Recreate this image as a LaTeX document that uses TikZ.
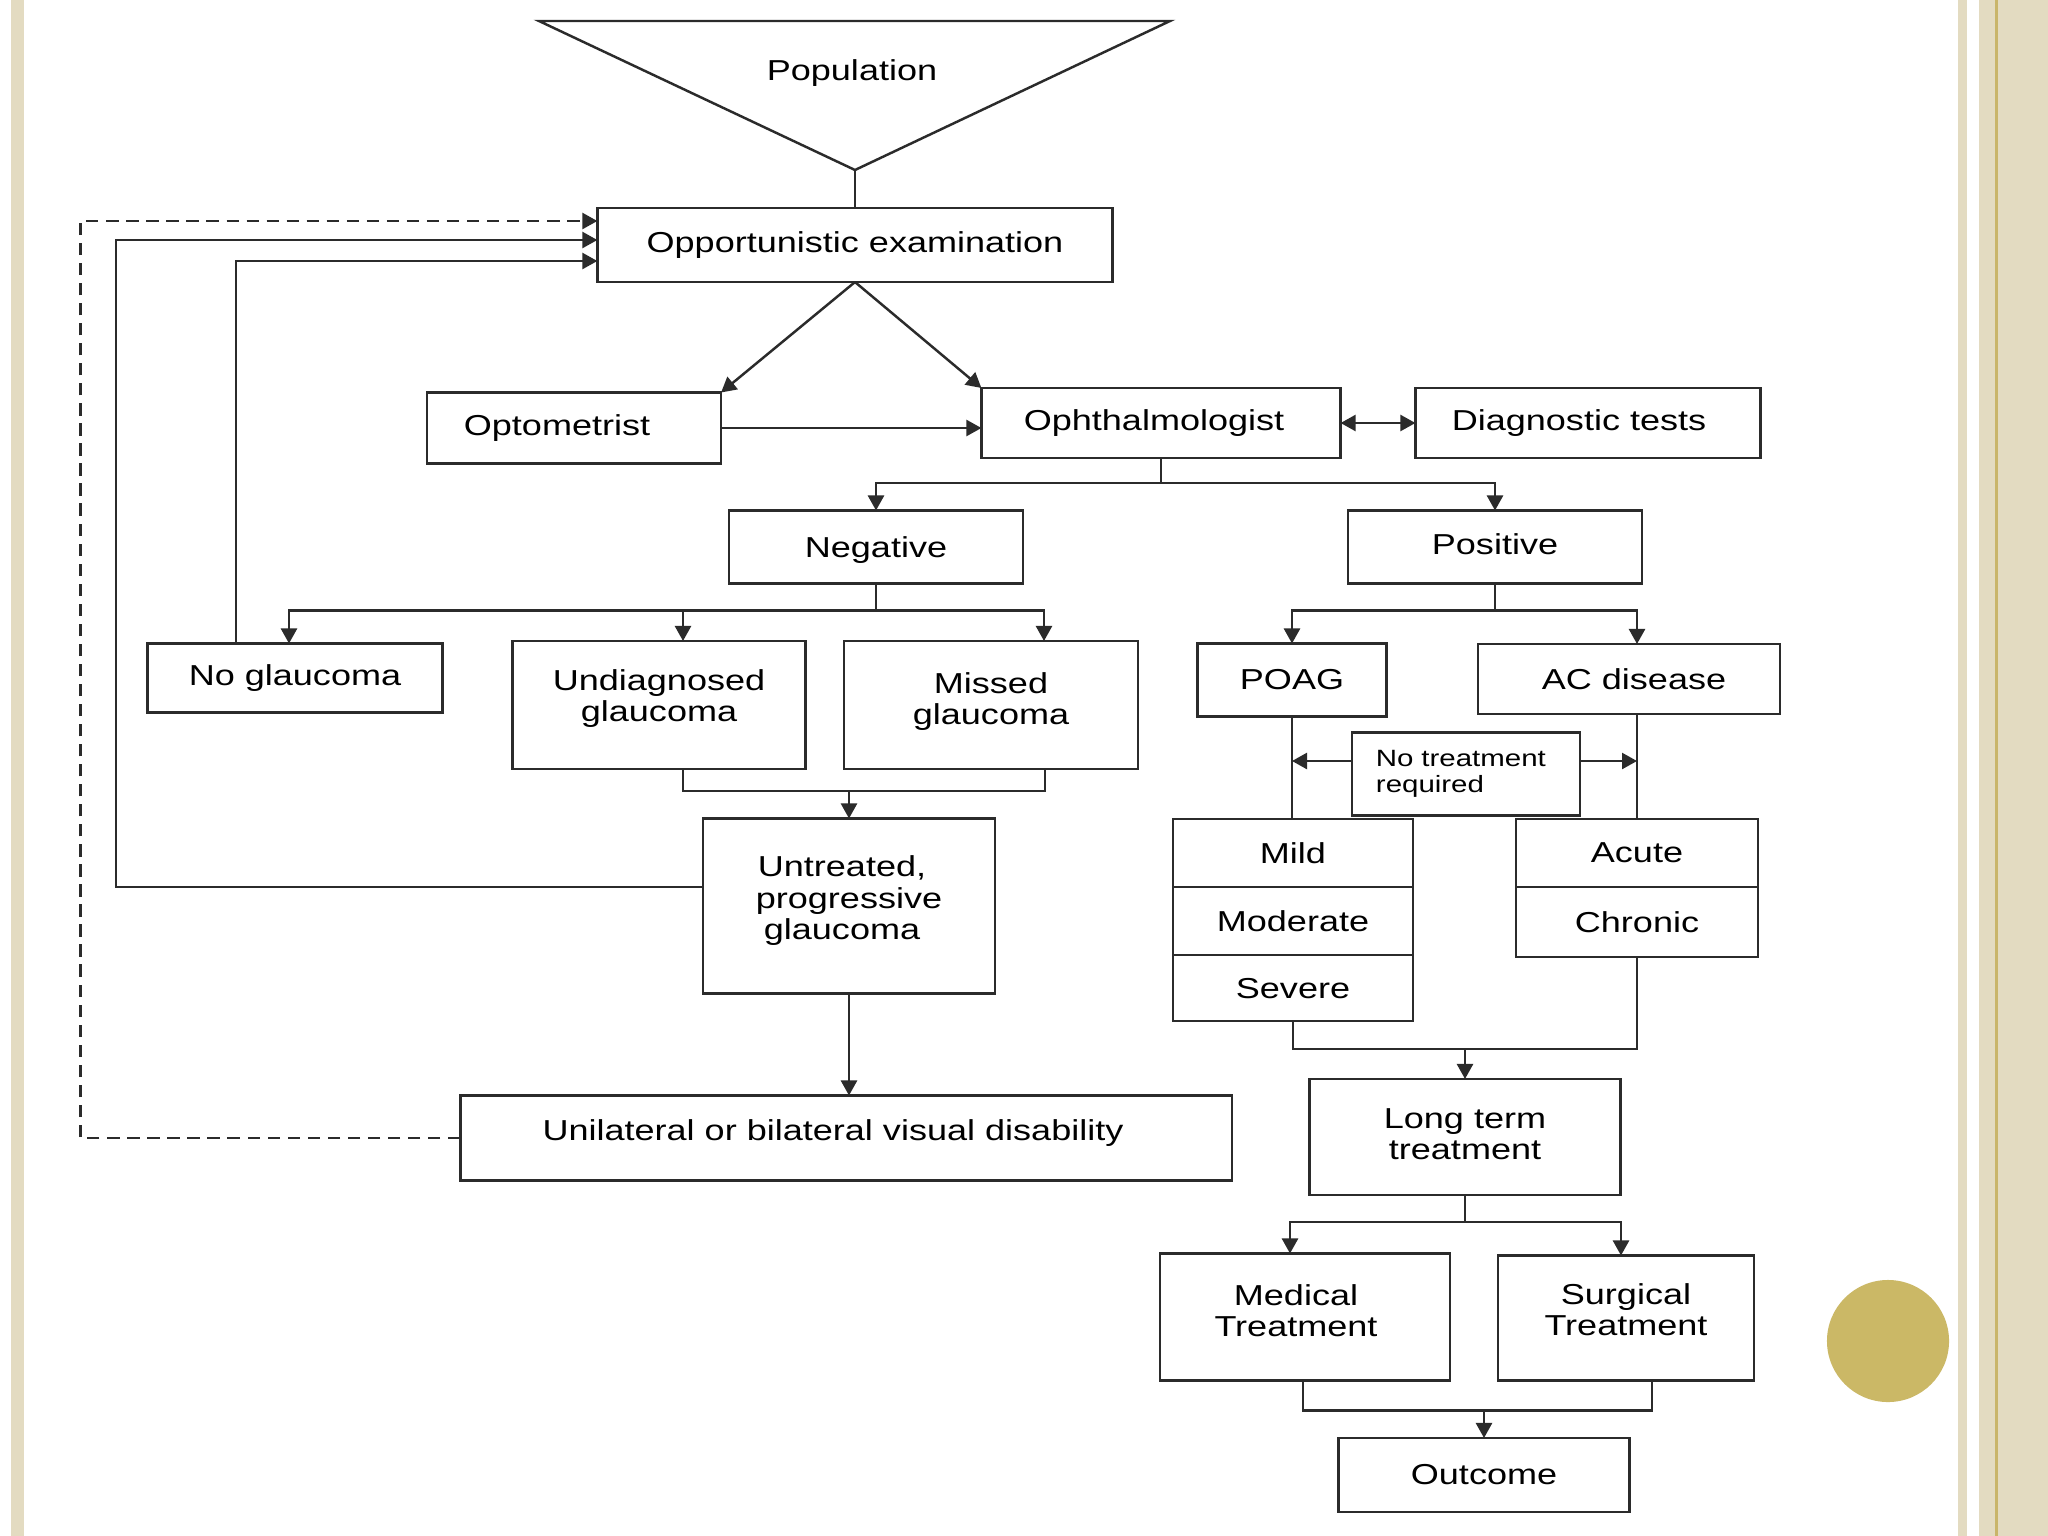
\documentclass[tikz,border=0pt]{standalone}
\usepackage{fontspec}
\setmainfont{Liberation Sans}[FakeStretch=1.25]
\usepackage{tikz}
\usetikzlibrary{arrows.meta,positioning,calc}
\definecolor{slidestrip}{HTML}{E3DBC1}
\definecolor{slidegold}{HTML}{C9B56A}
\definecolor{slidedot}{HTML}{CBB866}
\definecolor{boxline}{HTML}{2B2B2B}

\begin{document}
\begin{tikzpicture}[
  x=0.01cm, y=-0.01cm,
  box/.style={
    rectangle,
    draw=boxline,
    line width=0.7pt,
    fill=white,
    align=center,
    inner sep=1pt,
    outer sep=0pt,
    font=\fontsize{8.2}{8.9}\selectfont
  },
  link/.style={draw=boxline, line width=0.7pt},
  arrow/.style={link, -{Triangle[length=1.5mm,width=1.6mm]}},
  twoway/.style={link, {Triangle[length=1.5mm,width=1.6mm]}-{Triangle[length=1.5mm,width=1.6mm]}},
  backarrow/.style={arrow, dash pattern=on 3.5pt off 2.2pt}
]

% slide frame
\fill[white] (0,0) rectangle (2048,1536);
\useasboundingbox (0,0) rectangle (2048,1536);
\fill[slidestrip] (11,0) rectangle (24,1536);
\fill[slidestrip] (1958,0) rectangle (1967,1536);
\fill[slidestrip] (1979,0) rectangle (2048,1536);
\fill[slidegold] (1995,0) rectangle (1998,1536);
\fill[slidedot] (1888,1341) circle (0.61cm);

% population funnel
\coordinate (ptl) at (539,21);
\coordinate (ptr) at (1170,21);
\coordinate (ptip) at (855,170);
\draw[link] (ptl) -- (ptr) -- (ptip) -- cycle;
\node[font=\fontsize{8.2}{8.9}\selectfont] (popu) at (852,73) {Population};

% left branch
\node[box, minimum width=5.15cm, minimum height=0.74cm] (opp) at (855,245) {Opportunistic examination};
\node[box, minimum width=2.94cm, minimum height=0.71cm] (optom) at (574,428) {Optometrist\hspace*{0.34cm}};
\node[box, minimum width=3.59cm, minimum height=0.70cm] (ophth) at (1161,423) {Ophthalmologist\hspace*{0.14cm}};
\node[box, minimum width=3.45cm, minimum height=0.70cm] (diag) at (1588,423) {Diagnostic tests\hspace*{0.18cm}};
\node[box, minimum width=2.94cm, minimum height=0.73cm, text depth=0pt] (neg) at (876,547) {Negative};
\node[box, minimum width=2.94cm, minimum height=0.73cm, text depth=1.5pt] (pos) at (1495,547) {Positive};
\node[box, minimum width=2.95cm, minimum height=0.69cm] (noglau) at (295,678) {No glaucoma};
\node[box, minimum width=2.93cm, minimum height=1.28cm, text depth=5.4pt] (undiag) at (659,705) {Undiagnosed\\glaucoma};
\node[box, minimum width=2.94cm, minimum height=1.28cm, text depth=3.6pt] (missed) at (991,705) {Missed\\glaucoma};
\node[box, minimum width=2.92cm, minimum height=1.75cm, text depth=4.7pt] (untr) at (849,906)
  {Untreated,\hspace*{0.14cm}\\progressive\hspace*{0.14cm}\\glaucoma\hspace*{0.14cm}};
\node[box, minimum width=7.71cm, minimum height=0.85cm, text depth=4.7pt] (unil) at (846,1138)
  {Unilateral or bilateral visual disability\hspace*{0.26cm}};

% right branch
\node[box, minimum width=1.89cm, minimum height=0.73cm] (poag) at (1292,680) {POAG};
\node[box, minimum width=3.02cm, minimum height=0.70cm] (acd) at (1629,679) {\hspace*{0.1cm}AC disease};
\node[box, align=left, text width=1.8cm, inner xsep=0.24cm, minimum height=0.83cm,
  font=\fontsize{6.7}{7.4}\selectfont] (notr) at (1466,774) {No treatment\\required};
\node[box, minimum width=2.40cm, minimum height=0.68cm] (mild) at (1293,853) {Mild};
\node[box, minimum width=2.40cm, minimum height=0.68cm, below=0pt of mild] (moder) {Moderate};
\node[box, minimum width=2.40cm, minimum height=0.66cm, below=0pt of moder] (sev) {Severe};
\node[box, minimum width=2.42cm, minimum height=0.68cm] (acute) at (1637,853) {Acute};
\node[box, minimum width=2.42cm, minimum height=0.70cm, below=0pt of acute] (chron) {Chronic};
\node[box, minimum width=3.11cm, minimum height=1.16cm, text depth=1.5pt] (longt) at (1465,1137) {Long term\\treatment};
\node[box, minimum width=2.90cm, minimum height=1.27cm, text depth=3.7pt] (med) at (1305,1317)
  {Medical\hspace*{0.18cm}\\Treatment\hspace*{0.18cm}};
\node[box, minimum width=2.56cm, minimum height=1.25cm, text depth=4.8pt] (surg) at (1626,1318) {Surgical\\Treatment};
\node[box, minimum width=2.91cm, minimum height=0.74cm] (outc) at (1484,1475) {Outcome};

% top connectors
\draw[link] (ptip) -- (opp.north);
\draw[arrow] (opp.south) -- (optom.north east);
\draw[arrow] (opp.south) -- (ophth.north west);
\draw[arrow] (optom.east) -- (optom.east -| ophth.west);
\draw[twoway] (ophth.east) -- (ophth.east -| diag.west);
\draw[link] (ophth.south) -- ++(0,25) coordinate (obus);
\draw[arrow] (obus) -| (neg.north);
\draw[arrow] (obus) -| (pos.north);

% negative side
\draw[link] (neg.south) -- ++(0,27) coordinate (nbus);
\draw[arrow] (nbus) -| ($(noglau.north)+(-6,0)$);
\draw[arrow] (nbus) -| ($(undiag.north)+(24,0)$);
\draw[arrow] (nbus) -| ($(missed.north)+(53,0)$);
\draw[link] ($(undiag.south)+(24,0)$) -- ++(0,22) coordinate (ubus) -| ($(missed.south)+(54,0)$);
\draw[arrow] (untr.north |- ubus) -- (untr.north);
\draw[arrow] (untr.south) -- (untr.south |- unil.north);

% feedback loops
\draw[backarrow] (unil.west) -- ++(-380,0) |- ($(opp.west)+(0,-24)$);
\draw[arrow] ($(untr.west)+(0,-19)$) -- ++(-587,0) |- ($(opp.west)+(0,-5)$);
\draw[arrow] ($(noglau.north)+(-59,0)$) |- ($(opp.west)+(0,16)$);

% positive side
\draw[link] (pos.south) -- ++(0,27) coordinate (pbus);
\draw[arrow] (pbus) -| (poag.north);
\draw[arrow] (pbus) -| (acute.north |- acd.north);
\draw[link] (poag.south) -- (poag.south |- mild.north);
\draw[link] (acute.north |- acd.south) -- (acute.north);
\coordinate (ntl) at ($(notr.west)+(0,-13)$);
\coordinate (ntr) at ($(notr.east)+(0,-13)$);
\draw[arrow] (ntl) -- (poag.south |- ntl);
\draw[arrow] (ntr) -- (acute.north |- ntr);
\draw[link] (sev.south) -- ++(0,28) coordinate (sbus) -| (chron.south);
\draw[arrow] (longt.north |- sbus) -- (longt.north);
\draw[link] (longt.south) -- ++(0,27) coordinate (lbus);
\draw[arrow] (lbus) -| ($(med.north)+(-15,0)$);
\draw[arrow] (lbus) -| ($(surg.north)+(-5,0)$);
\draw[link] ($(med.south)+(-2,0)$) -- ++(0,30) coordinate (mbus) -| ($(surg.south)+(26,0)$);
\draw[arrow] (outc.north |- mbus) -- (outc.north);

\end{tikzpicture}
\end{document}
